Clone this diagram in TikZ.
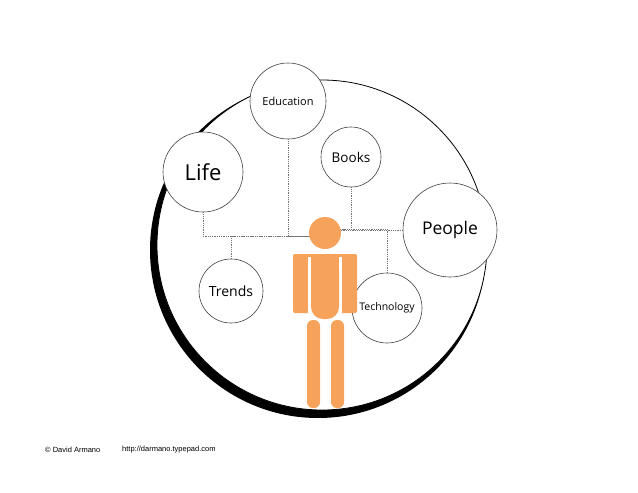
\documentclass[tikz,border=0pt]{standalone}
\usepackage{fontspec}
\setmainfont{Open Sans}
\newfontfamily\arial{Liberation Sans}
\definecolor{org}{HTML}{F7A25A}
\begin{document}
\begin{tikzpicture}[x=1pt,y=-1pt,
  bub/.style={circle,draw=black!75,line width=0.6pt,fill=white,inner sep=0pt},
  con/.style={draw=black!55,densely dotted,line width=0.8pt}]
\useasboundingbox (0,0) rectangle (638,493);
\fill[black] (318,250) circle (168);
\draw[black,line width=0.8pt,fill=white] (322,245) circle (165);
% connectors
\coordinate (hl) at (312,236);
\coordinate (hr) at (338,229);
% bubbles
\node[bub,minimum size=76] (edu) at (288,101) {\fontsize{11}{13}\selectfont Education};
\node[bub,minimum size=80] (life) at (203,172) {\fontsize{22}{26}\selectfont Life};
\node[bub,minimum size=60] (books) at (351,157) {\fontsize{13.5}{16}\selectfont Books};
\node[bub,minimum size=94] (people) at (450,230) {\fontsize{17.5}{21}\selectfont People};
\node[bub,minimum size=64] (trends) at (231,291) {\fontsize{14}{17}\selectfont Trends};
\node[bub,minimum size=70] (tech) at (387,308) {\fontsize{10.5}{12}\selectfont Technology};
\draw[con] (life.south) |- (hl);
\draw[con] (edu.south) |- (hl);
\draw[con] (trends.north) |- (hl);
\draw[con] (books.south) |- (hr);
\draw[con] (people.west) -- (people.west -| hr);
\draw[con] (tech.north) |- (hr);
% person
\node[circle,fill=org,minimum size=32,inner sep=0] (head) at (325,233) {};
\fill[org,rounded corners=2] (293,254) rectangle (357,313);
\fill[white] (308,257) rectangle (311,313);
\fill[white] (339,257) rectangle (342,313);
\fill[white] (311,300) rectangle (339,320);
\fill[org,rounded corners=12] (311,256) rectangle (339,319);
\fill[org,rounded corners=6] (307,320) rectangle (320,408);
\fill[org,rounded corners=6] (331,320) rectangle (344,408);
% footer
\node[anchor=west,inner sep=0] (c) at (45,450) {\arial\fontsize{7.5}{9}\selectfont © David Armano};
\node[anchor=west,inner sep=0] (u) at (122,450) {\arial\fontsize{7.5}{9}\selectfont http://darmano.typepad.com};
\end{tikzpicture}
\end{document}
